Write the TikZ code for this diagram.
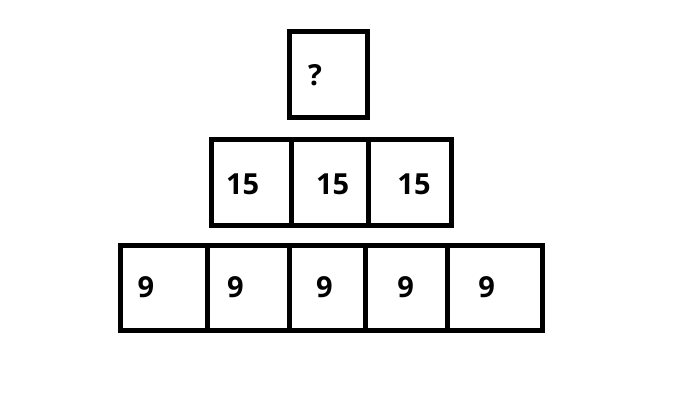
\documentclass[tikz,border=0pt]{standalone}
\usepackage{fontspec}
\setmainfont{Open Sans}
\usepackage{tikz}
\usetikzlibrary{positioning}

\begin{document}
\begin{tikzpicture}[x=1pt,y=-1pt]
\tikzset{box/.style={line width=5pt,line cap=rect},
 num/.style={draw=none,font=\fontsize{29}{32}\selectfont\bfseries}}
\useasboundingbox (0,0) rectangle (674,412);

% top
\draw[box] (289.5,31.5) rectangle (367,117);
\node[num] (q) at (315,75) {?};

% middle row
\draw[box] (211.7,139.7) rectangle (291.7,225);
\draw[box] (291.7,139.7) rectangle (368.7,225);
\draw[box] (368.7,139.7) rectangle (451,225);
\node[num] (m1) at (242.7,184) {15};
\node[num] (m2) at (332.7,184) {15};
\node[num] (m3) at (414,184) {15};

% bottom row
\draw[box] (120.5,245.7) rectangle (207.7,330.3);
\draw[box] (207.7,245.7) rectangle (289,330.3);
\draw[box] (289,245.7) rectangle (365.7,330.3);
\draw[box] (365.7,245.7) rectangle (447.3,330.3);
\draw[box] (447.3,245.7) rectangle (542.5,330.3);
\node[num] (b1) at (146,287.5) {9};
\node[num] (b2) at (235.3,287.5) {9};
\node[num] (b3) at (324.3,287.5) {9};
\node[num] (b4) at (405.7,287.5) {9};
\node[num] (b5) at (486.7,287.5) {9};

\end{tikzpicture}
\end{document}
